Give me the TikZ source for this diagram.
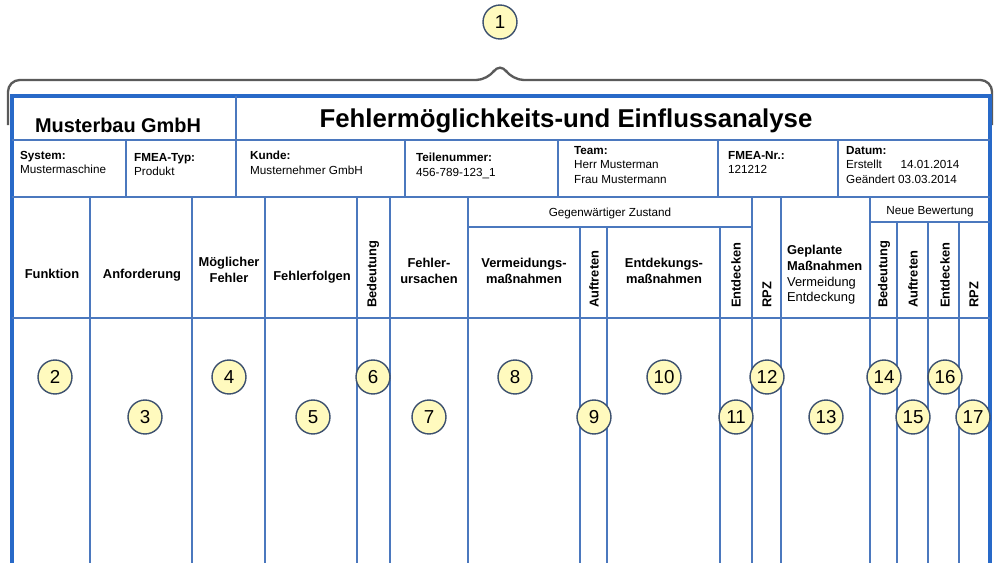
\documentclass[tikz,border=0pt]{standalone}
\usepackage{fontspec}
\setmainfont{Liberation Sans}
\usetikzlibrary{positioning}
\definecolor{frameblue}{RGB}{40, 105, 200}
\definecolor{gridblue}{RGB}{75, 120, 190}
\definecolor{marker}{RGB}{255, 250, 190}
\definecolor{markerline}{RGB}{60, 80, 110}
\definecolor{bracegray}{RGB}{90, 90, 90}
\tikzset{
  num/.style={circle, draw=markerline, fill=marker, line width=1.2pt, minimum size=29pt, inner sep=0pt, font=\fontsize{16}{16}\selectfont},
  head/.style={font=\bfseries\fontsize{11}{13}\selectfont, align=center},
  vhead/.style={font=\bfseries\fontsize{11}{13}\selectfont, rotate=90, anchor=west},
  info/.style={font=\fontsize{10}{12.5}\selectfont, align=left, anchor=north west},
  grid/.style={gridblue, line width=2pt}
}
\begin{document}
\begin{tikzpicture}[x=0.03cm, y=-0.03cm]
    \useasboundingbox (0,0) rectangle (1000,563);
    \begin{scope}
    \clip (0,0) rectangle (1000,563);
    % Brace above the form
    \draw[bracegray, line width=2pt, rounded corners=10pt] (8,125) -- (8,80) -- (488,80) -- (500,62) -- (512,80) -- (992,80) -- (992,125);
    % Outer frame
    \draw[frameblue, line width=4pt] (12,96) rectangle (990,620);
    % Rows
    \draw[grid] (12,140) -- (990,140);
    \draw[grid] (12,197) -- (990,197);
    \draw[grid] (12,318) -- (990,318);
    \draw[grid] (236,96) -- (236,197);
    \foreach \x in {126,405,558,718,838} {
        \draw[grid] (\x,140) -- (\x,197);
    }
    % Columns
    \foreach \x in {90,192,265,357,390,468,752,781,870} {
        \draw[grid] (\x,197) -- (\x,600);
    }
    \foreach \x in {580,607,720} {
        \draw[grid] (\x,227) -- (\x,600);
    }
    \foreach \x in {897,928,959} {
        \draw[grid] (\x,222) -- (\x,600);
    }
    \draw[grid] (468,227) -- (752,227);
    \draw[grid] (870,222) -- (990,222);
    \end{scope}

    % Title row
    \node[font=\bfseries\fontsize{17}{17}\selectfont] (firm) at (118,125) {Musterbau GmbH};
    \node[font=\bfseries\fontsize{22}{22}\selectfont] (title) at (566,121) {Fehlermöglichkeits-und Einflussanalyse};

    % Info row
    \node[info] (system) at (16,147) {\textbf{System:}\\Mustermaschine};
    \node[info] (typ) at (130,149) {\textbf{FMEA-Typ:}\\Produkt};
    \node[info] (kunde) at (246,147) {\textbf{Kunde:}\\Musternehmer GmbH};
    \node[info] (teil) at (412,149) {\textbf{Teilenummer:}\\456-789-123\_1};
    \node[info] (team) at (570,142) {\textbf{Team:}\\Herr Musterman\\Frau Mustermann};
    \node[info] (nr) at (724,147) {\textbf{FMEA-Nr.:}\\121212};
    \node[info] (datum) at (842,142) {\textbf{Datum:}\\Erstellt\hspace{1.6em}14.01.2014\\Geändert 03.03.2014};

    % Column headers
    \node[head] (funktion) at (52,274) {Funktion};
    \node[head] (anf) at (142,275) {Anforderung};
    \node[head] (mf) at (229,270) {Möglicher\\Fehler};
    \node[head] (ff) at (312,277) {Fehlerfolgen};
    \node[vhead] (bed) at (373,312) {Bedeutung};
    \node[head] (fu) at (429,271) {Fehler-\\ursachen};
    \node[font=\fontsize{10}{12}\selectfont] (gz) at (610,213) {Gegenwärtiger Zustand};
    \node[head] (vm) at (524,271) {Vermeidungs-\\maßnahmen};
    \node[vhead] (auf) at (594,312) {Auftreten};
    \node[head] (em) at (664,271) {Entdekungs-\\maßnahmen};
    \node[vhead] (ent) at (736,312) {Entdecken};
    \node[vhead] (rpz) at (767,312) {RPZ};
    \node[font=\fontsize{11}{13.5}\selectfont, align=left, anchor=north west] (gm) at (783,241) {\textbf{Geplante}\\\textbf{Maßnahmen}\\Vermeidung\\Entdeckung};
    \node[font=\fontsize{10}{12}\selectfont] (nb) at (930,212) {Neue Bewertung};
    \node[vhead] (bed2) at (884,312) {Bedeutung};
    \node[vhead] (auf2) at (913,312) {Auftreten};
    \node[vhead] (ent2) at (945,312) {Entdecken};
    \node[vhead] (rpz2) at (974,312) {RPZ};

    % Numbered markers
    \node[num] (c1) at (500,22) {1};
    \foreach \n/\x/\y in {2/55/377,3/145/417,4/229/377,5/313/417,6/373/377,7/429/417,8/515/377,9/594/417,10/664/377,11/736/417,12/767/377,13/826/417,14/884/377,15/913/417,16/945/377,17/973/417} {
        \node[num] (c\n) at (\x,\y) {\n};
    }
\end{tikzpicture}
\end{document}
